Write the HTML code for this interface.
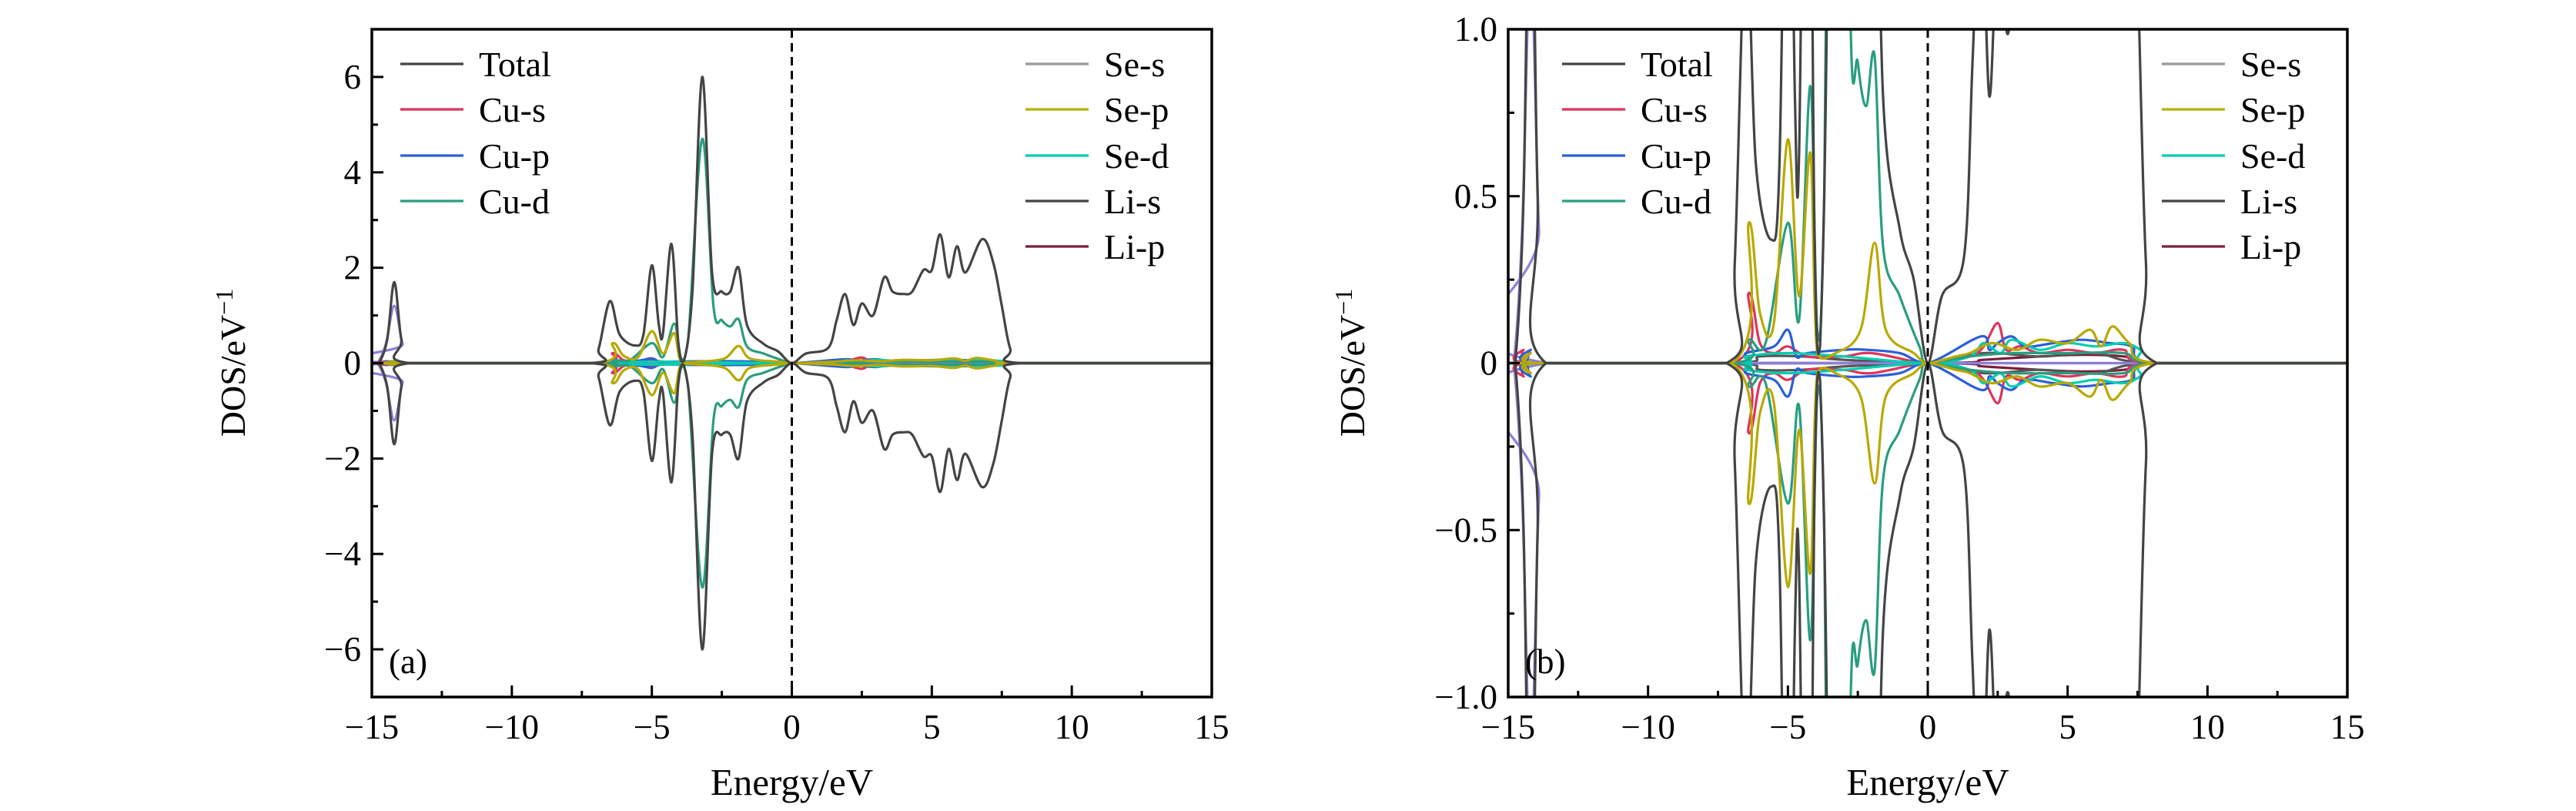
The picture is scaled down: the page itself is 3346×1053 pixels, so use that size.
<!DOCTYPE html>
<html><head><meta charset="utf-8">
<style>
html,body{margin:0;padding:0;background:#fff;width:3346px;height:1053px;overflow:hidden;}
svg{display:block;}
text{font-family:"Liberation Serif",serif;fill:#000;}
</style></head>
<body>
<svg id="s" width="3346" height="1053" viewBox="0 0 3346 1053" xmlns="http://www.w3.org/2000/svg">
<defs>
<clipPath id="ca"><rect x="483" y="38" width="1091" height="867"/></clipPath>
<clipPath id="cb"><rect x="1959" y="38" width="1090" height="867"/></clipPath>
</defs>
<g id="ga" clip-path="url(#ca)"></g>
<g id="gb" clip-path="url(#cb)"></g>
<g id="axes"></g>
</svg>
<script>
const NS="http://www.w3.org/2000/svg";
function el(tag,attrs,parent,txt){const e=document.createElementNS(NS,tag);for(const k in attrs)e.setAttribute(k,attrs[k]);if(txt!==undefined)e.textContent=txt;parent.appendChild(e);return e;}
const total=[[-15,0],[-14.75,0],[-14.45,0.5],[-14.2,1.7],[-13.95,0.5],[-13.65,0],[-7.2,0],[-6.9,0.3],[-6.5,1.3],[-6.15,0.6],[-5.6,0.37],[-5.3,0.6],[-5.0,2.05],[-4.75,0.8],[-4.6,0.63],[-4.3,2.5],[-4.05,0.4],[-3.85,0.05],[-3.55,1.5],[-3.2,6.0],[-2.85,1.9],[-2.5,1.5],[-2.2,1.5],[-1.9,2.0],[-1.6,0.8],[-1.0,0.4],[-0.5,0.25],[0,0],[0.5,0.2],[1.3,0.32],[1.6,0.9],[1.9,1.45],[2.2,0.8],[2.5,1.25],[2.9,1.0],[3.3,1.8],[3.6,1.5],[4.0,1.45],[4.3,1.5],[4.7,1.95],[5.0,1.95],[5.3,2.7],[5.6,1.8],[5.9,2.45],[6.2,1.9],[6.8,2.6],[7.2,2.1],[7.5,1.2],[7.8,0.3],[8.2,0],[15,0]];
const cud=[[-15,0],[-7,0],[-6.4,0.07],[-5.8,0.06],[-5.0,0.42],[-4.6,0.13],[-4.2,0.83],[-3.95,0.1],[-3.7,0.5],[-3.2,4.7],[-2.8,1.2],[-2.5,0.9],[-2.2,0.77],[-1.9,0.92],[-1.6,0.35],[-1.0,0.2],[-0.3,0.05],[0,0],[1.5,0.02],[3,0.03],[5,0.03],[7,0.03],[8.2,0],[15,0]];
const sep=[[-15,0],[-14.5,0],[-14.2,0.03],[-13.9,0],[-7,0],[-6.4,0.42],[-6.0,0.15],[-5.5,0.12],[-5.0,0.67],[-4.6,0.2],[-4.2,0.63],[-3.95,0.03],[-3.3,0.03],[-2.4,0.1],[-1.9,0.36],[-1.5,0.1],[-0.5,0.03],[0,0],[1.0,0.02],[1.5,0.03],[2.3,0.06],[3.2,0.04],[4.0,0.07],[5.0,0.06],[5.8,0.1],[6.2,0.05],[6.6,0.11],[7.2,0.06],[8.2,0],[15,0]];
const cus=[[-15,0],[-14.6,0],[-14.45,0.04],[-14.2,0],[-7,0],[-6.4,0.21],[-6.0,0.06],[-5.5,0.03],[-5.0,0.05],[-4.3,0.02],[-3,0.02],[-2,0.03],[0,0],[1.5,0.02],[2.0,0.05],[2.5,0.12],[2.8,0.04],[3.3,0.05],[4,0.03],[5,0.04],[6,0.03],[7,0.04],[8,0],[15,0]];
const cup=[[-15,0],[-14.4,0],[-14.2,0.04],[-14.0,0],[-7,0],[-6.5,0.03],[-5.5,0.05],[-5.0,0.1],[-4.7,0.02],[-4.3,0.03],[-3,0.04],[-2.2,0.04],[-1,0.03],[0,0],[1.9,0.08],[2.2,0.04],[2.5,0.06],[3.0,0.08],[3.5,0.05],[4.5,0.06],[5.5,0.07],[6.5,0.06],[7.3,0.05],[8.2,0],[15,0]];
const sed=[[-15,0],[-7,0],[-6.5,0.02],[-5,0.03],[-3,0.02],[0,0],[1.5,0.02],[2,0.06],[2.6,0.03],[3,0.07],[4,0.04],[5,0.06],[6,0.05],[7,0.06],[7.6,0.04],[8.2,0],[15,0]];
const ses=[[-15,0],[-14.8,0],[-14.5,0.4],[-14.2,1.2],[-13.9,0.4],[-13.6,0],[15,0]];
const lis=[[-15,0],[-7,0],[-6,0.02],[-4.5,0.02],[-3,0.01],[0,0],[2,0.03],[4,0.02],[6,0.03],[8,0],[15,0]];
const lip=[[-15,0],[0,0],[2,0.01],[4,0.02],[5.5,0.025],[7,0.02],[8.2,0],[15,0]];
const series=[[lip,"#7a1f3d"],[lis,"#555555"],[ses,"#8c80d8"],[cus,"#e0335a"],[cup,"#2b5fd9"],[sed,"#00cdb0"],[cud,"#2a9d80"],[sep,"#b9a800"],[total,"#444444"]];
function path(pts,X,Y,sgn){let d="M"+X(pts[0][0]).toFixed(1)+" "+Y(sgn*pts[0][1]).toFixed(1);
 for(let i=0;i<pts.length-1;i++){const p0=pts[Math.max(0,i-1)],p1=pts[i],p2=pts[i+1],p3=pts[Math.min(pts.length-1,i+2)];
  const c1x=p1[0]+(p2[0]-p0[0])/6,c1y=p1[1]+(p2[1]-p0[1])/6,c2x=p2[0]-(p3[0]-p1[0])/6,c2y=p2[1]-(p3[1]-p1[1])/6;
  d+=" C"+X(c1x).toFixed(1)+" "+Y(sgn*Math.max(c1y,0)).toFixed(1)+" "+X(c2x).toFixed(1)+" "+Y(sgn*Math.max(c2y,0)).toFixed(1)+" "+X(p2[0]).toFixed(1)+" "+Y(sgn*p2[1]).toFixed(1);}
 return d;}
const ax=document.getElementById("axes");
function panel(g,x0,x1,ymax,ticksY,minorY,fmt,lab,legL,legR,ylabx){
 const top=38,bot=905;const X=e=>x0+(e+15)/30*(x1-x0);const Y=v=>top+(ymax-v)/(2*ymax)*(bot-top);
 for(const [pts,c] of series){for(const s of [1,-1])el("path",{d:path(pts,X,Y,s),fill:"none",stroke:c,"stroke-width":3.2},g);}
 el("line",{x1:X(0),x2:X(0),y1:top,y2:bot,stroke:"#000","stroke-width":3,"stroke-dasharray":"11,7"},ax);
 el("rect",{x:x0,y:top,width:x1-x0,height:bot-top,fill:"none",stroke:"#000","stroke-width":3.5},ax);
 for(let e=-15;e<=15;e+=2.5){const maj=(Math.abs(e%5)<1e-9);el("line",{x1:X(e),x2:X(e),y1:bot,y2:bot-(maj?15:8),stroke:"#000","stroke-width":3},ax);
  if(maj)el("text",{x:X(e),y:959,"text-anchor":"middle","font-size":45},ax,(e<0?"\u2212"+(-e):""+e));}
 for(const v of minorY)el("line",{x1:x0,x2:x0+8,y1:Y(v),y2:Y(v),stroke:"#000","stroke-width":3},ax);
 for(const v of ticksY){el("line",{x1:x0,x2:x0+15,y1:Y(v),y2:Y(v),stroke:"#000","stroke-width":3},ax);
  el("text",{x:x0-14,y:Y(v)+15,"text-anchor":"end","font-size":45},ax,fmt(v));}
 el("text",{x:(x0+x1)/2,y:1032,"text-anchor":"middle","font-size":49},ax,"Energy/eV");
 const t=el("text",{transform:"translate("+ylabx+",471) rotate(-90)","text-anchor":"middle","font-size":46},ax,"DOS/eV");
 el("tspan",{dy:-16,"font-size":32},t,"\u22121");
 el("text",{x:x0+22,y:874,"font-size":45},ax,lab);
 const rows=[83,142,202,261,320];
 legL.forEach((it,i)=>{el("line",{x1:it[2],x2:it[2]+82,y1:rows[i],y2:rows[i],stroke:it[1],"stroke-width":3.2},ax);el("text",{x:it[2]+102,y:rows[i]+16,"font-size":46},ax,it[0]);});
 legR.forEach((it,i)=>{el("line",{x1:it[2],x2:it[2]+82,y1:rows[i],y2:rows[i],stroke:it[1],"stroke-width":3.2},ax);el("text",{x:it[2]+102,y:rows[i]+16,"font-size":46},ax,it[0]);});
}
const mk=(x,names,cols)=>names.map((n,i)=>[n,cols[i],x]);
const fmtA=v=>v<0?"\u2212"+(-v):""+v;
const fmtB=v=>(v<0?"\u2212":"")+(v===0?"0":Math.abs(v).toFixed(1));
const Ln=["Total","Cu-s","Cu-p","Cu-d"],Lc=["#444444","#e0335a","#2b5fd9","#2a9d80"];
const Rn=["Se-s","Se-p","Se-d","Li-s","Li-p"],Rc=["#999999","#b9b000","#00cdb0","#444444","#7a1f3d"];
panel(document.getElementById("ga"),483,1574,7,[-6,-4,-2,0,2,4,6],[-7,-5,-3,-1,1,3,5,7],fmtA,"(a)",mk(520,Ln,Lc),mk(1332,Rn,Rc),318);
panel(document.getElementById("gb"),1959,3049,1,[-1,-0.5,0,0.5,1],[-0.75,-0.25,0.25,0.75],fmtB,"(b)",mk(2029,Ln,Lc),mk(2808,Rn,Rc),1772);
</script>
</body></html>
